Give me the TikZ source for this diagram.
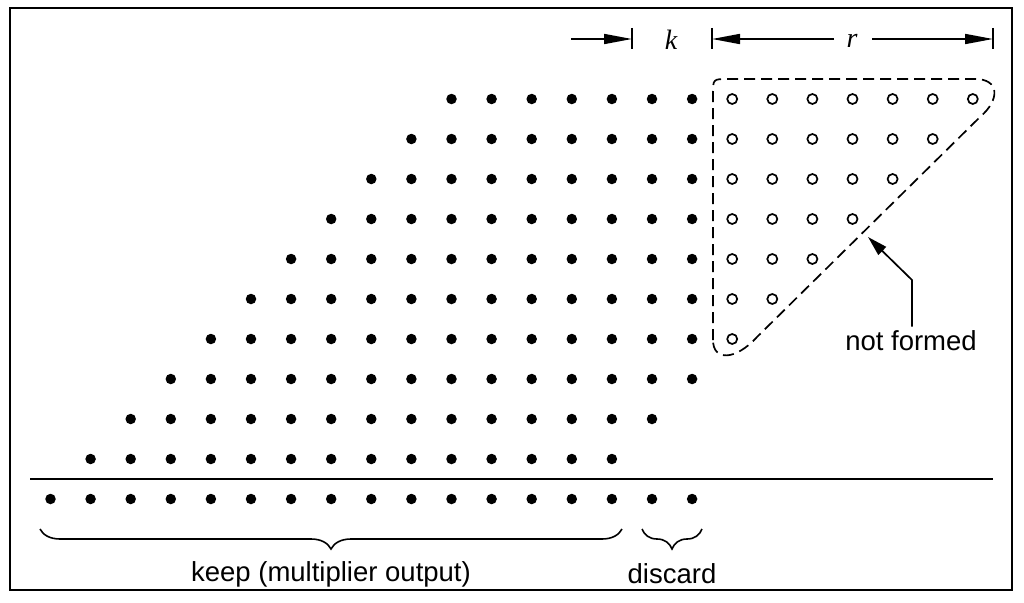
\documentclass[tikz,border=0pt]{standalone}
\usepackage{fontspec}
\setmainfont{Liberation Sans}
\newfontfamily\mathserif{Liberation Serif}
\usetikzlibrary{arrows.meta,decorations.pathreplacing}
\begin{document}
\begin{tikzpicture}[x=1pt,y=-1pt,
  fdot/.style={circle,fill=black,inner sep=0pt,minimum size=10.5pt},
  odot/.style={circle,draw=black,line width=1.7pt,inner sep=0pt,minimum size=10pt},
  dimarrow/.style={line width=1.7pt,-{Triangle[length=28pt,width=10pt]}},
  tick/.style={line width=1.7pt},
  lbl/.style={font=\fontsize{27.5}{30}\selectfont,inner sep=0pt},
  vlbl/.style={font=\mathserif\itshape\fontsize{28}{30}\selectfont,inner sep=0pt},
  bracestyle/.style={line width=1.6pt,decorate,decoration={brace,mirror,amplitude=20pt}}]
\useasboundingbox (0,0) rectangle (1024,602);
\draw[line width=2.2pt] (10,8) rectangle (1012,590);
% filled dots
\foreach \r/\a/\b in {0/10/16,1/9/16,2/8/16,3/7/16,4/6/16,5/5/16,6/4/16,7/3/16,8/2/15,9/1/14}{
  \foreach \c in {\a,...,\b}{
    \node[fdot] (f-\r-\c) at ({50.5+40.1*\c},{99+40*\r}) {};
  }
}
\foreach \c in {0,...,16}{
  \node[fdot] (b-\c) at ({50.5+40.1*\c},499) {};
}
% open circles
\foreach \r in {0,...,6}{
  \pgfmathtruncatemacro{\e}{23-\r}
  \foreach \c in {17,...,\e}{
    \node[odot] (o-\r-\c) at ({50.5+40.1*\c},{99+40*\r}) {};
  }
}
% separating line
\coordinate (hl) at (30,479);
\coordinate (hr) at (993,479);
\draw[line width=1.7pt] (hl) -- (hr);
% dashed region
\draw[line width=1.7pt,dash pattern=on 11pt off 6pt]
  (713,340) -- (713,94) .. controls (713,79) .. (728,79) -- (975,79)
  .. controls (1000,79) and (1000,100) .. (980,117) -- (757,337)
  .. controls (735,361) and (713,361) .. (713,340) -- cycle;
% top dimension
\coordinate (t1a) at (632,28); \coordinate (t1b) at (632,49);
\coordinate (t2a) at (712,28); \coordinate (t2b) at (712,49);
\coordinate (t3a) at (993,28); \coordinate (t3b) at (993,49);
\draw[tick] (t1a) -- (t1b);
\draw[tick] (t2a) -- (t2b);
\draw[tick] (t3a) -- (t3b);
\node[vlbl] (k) at (671,40) {k};
\node[vlbl] (r) at (852,41) {r};
\coordinate (a1) at (571,39); \coordinate (a1t) at (632,39);
\coordinate (a2) at (834,39); \coordinate (a2t) at (712,39);
\coordinate (a3) at (872,39); \coordinate (a3t) at (993,39);
\draw[dimarrow] (a1) -- (a1t);
\draw[dimarrow] (a2) -- (a2t);
\draw[dimarrow] (a3) -- (a3t);
% not formed
\node[lbl] (nf) at (911,341) {not formed};
\coordinate (nfb) at (912,280);
\coordinate (nft) at (868,237);
\draw[line width=1.7pt,-{Triangle[length=20pt,width=11pt]}] (nf.north -| nfb) ++(0,-4) -- (nfb) -- (nft);
% braces
\coordinate (k1) at (40,529); \coordinate (k2) at (622,529);
\coordinate (d1) at (642,529); \coordinate (d2) at (702,529);
\draw[bracestyle] (k1) -- (k2);
\draw[bracestyle] (d1) -- (d2);
\node[lbl] (keep) at (331,574) {keep (multiplier output)};
\node[lbl] (disc) at (672,574) {discard};
\end{tikzpicture}
\end{document}
